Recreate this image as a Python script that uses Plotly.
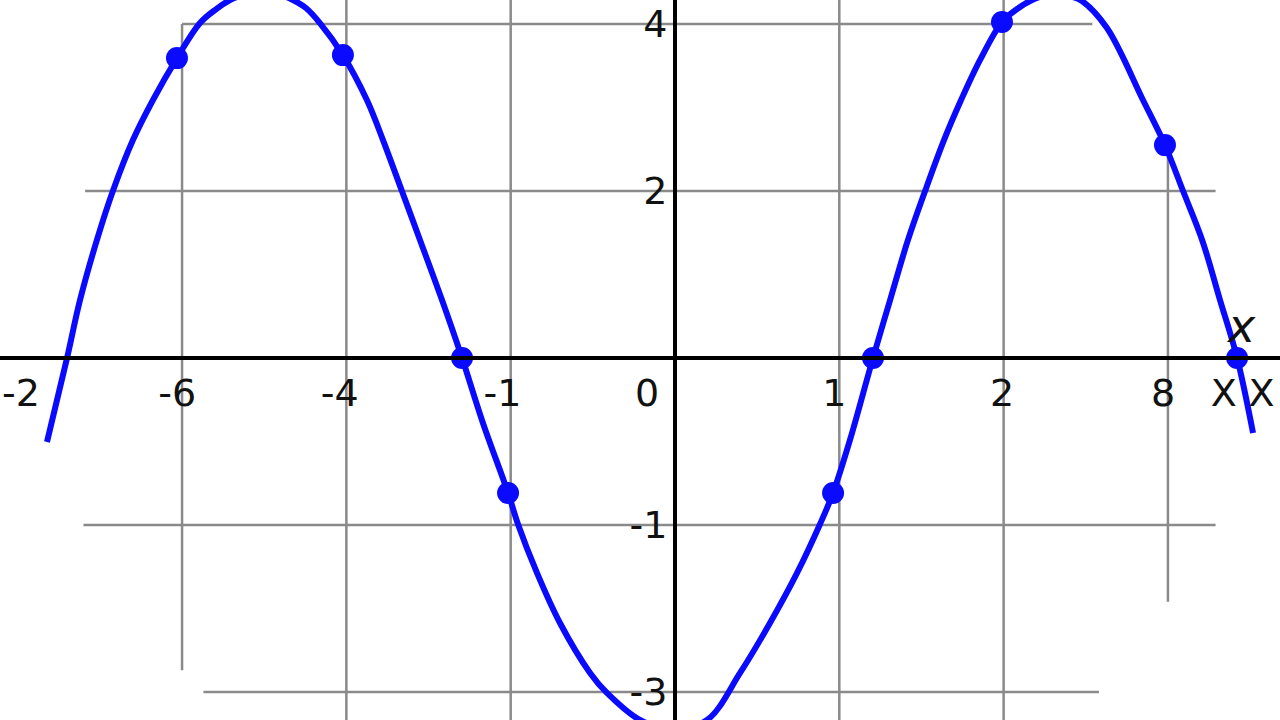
import plotly.graph_objects as go

# curve, in grid squares (one square = one unit)
curve_x = [-3.822, -3.700, -3.621, -3.518, -3.421, -3.299, -3.177, -3.031, -2.891, -2.800,
           -2.708, -2.617, -2.514, -2.416, -2.325, -2.246, -2.161, -2.021, -1.875, -1.777,
           -1.662, -1.552, -1.418, -1.296, -1.169, -1.016, -0.956, -0.840, -0.700, -0.517,
           -0.414, -0.213, -0.012, 0.195, 0.396, 0.578, 0.743, 0.883, 0.962, 1.065,
           1.205, 1.309, 1.418, 1.522, 1.637, 1.741, 1.856, 1.990, 2.082, 2.173,
           2.252, 2.331, 2.410, 2.477, 2.629, 2.848, 2.982, 3.092, 3.208, 3.317,
           3.421, 3.518]
curve_y = [-0.503, 0.0, 0.347, 0.707, 1.000, 1.305, 1.545, 1.796, 2.006, 2.084,
           2.144, 2.177, 2.192, 2.180, 2.144, 2.096, 2.006, 1.814, 1.545, 1.305,
           1.000, 0.707, 0.347, 0.0, -0.389, -0.808, -0.994, -1.287, -1.587, -1.886,
           -2.006, -2.168, -2.222, -2.168, -1.886, -1.587, -1.287, -0.994, -0.808, -0.491,
           0.0, 0.347, 0.707, 1.000, 1.305, 1.545, 1.784, 2.012, 2.090, 2.144,
           2.171, 2.180, 2.165, 2.138, 1.976, 1.545, 1.275, 1.000, 0.707, 0.347,
           0.0, -0.449]

# the dots on the curve
point_x = [-3.031, -2.021, -1.296, -1.016, 0.962, 1.205, 1.990, 2.982, 3.421]
point_y = [1.796, 1.814, 0.0, -0.808, -0.808, 0.0, 2.012, 1.275, 0.0]

# tick labels as printed (they don't follow the grid)
x_tick_vals = [-3.98, -3.03, -2.04, -1.05, -0.17, 0.97, 1.99, 2.97, 3.34, 3.57]
x_tick_text = ["-2", "-6", "-4", "-1", "0", "1", "2", "8", "X", "X"]
y_tick_vals = [2, 1, -1, -2]
y_tick_text = ["4", "2", "-1", "-3"]

# grid lines, each one only drawn over part of the picture
v_grid = [-3, -2, -1, 1, 2, 3]
v_grid_from = [-1.87, -2.3, -2.3, -2.3, -2.3, -1.46]
v_grid_to = [2.0, 2.3, 2.3, 2.3, 2.3, 1.27]
h_grid = [2, 1, -1, -2]
h_grid_from = [-3.0, -3.59, -3.60, -2.87]
h_grid_to = [2.54, 3.29, 3.29, 2.58]

BLUE = "#0a0aff"
FONT = dict(family="DejaVu Sans", size=38, color="#111111")

x_range = [-4.108, 3.682]
y_range = [-2.168, 2.144]

fig = go.Figure()

for gx, g0, g1 in zip(v_grid, v_grid_from, v_grid_to):
    fig.add_shape(type="line", x0=gx, x1=gx, y0=g0, y1=g1, layer="below",
                  line=dict(color="#8a8a8a", width=2.5))
for gy, g0, g1 in zip(h_grid, h_grid_from, h_grid_to):
    fig.add_shape(type="line", x0=g0, x1=g1, y0=gy, y1=gy, layer="below",
                  line=dict(color="#8a8a8a", width=2.5))

fig.add_trace(go.Scatter(x=curve_x, y=curve_y, mode="lines",
                         line=dict(color=BLUE, width=6, shape="spline", smoothing=1.0),
                         hoverinfo="skip"))
fig.add_trace(go.Scatter(x=point_x, y=point_y, mode="markers",
                         marker=dict(color=BLUE, size=22)))

fig.add_annotation(x=1258 / 1280, y=1 - 326 / 720, xref="paper", yref="paper",
                   text="<i>x</i>", showarrow=False,
                   font=dict(family="DejaVu Sans", size=46, color="#111111"))

fig.update_layout(
    width=1280, height=720,
    margin=dict(l=0, r=0, t=0, b=0, pad=0),
    paper_bgcolor="white", plot_bgcolor="white",
    showlegend=False,
    xaxis=dict(range=x_range, anchor="free", position=1 - 358 / 720,
               showgrid=False, zeroline=False, showline=True, automargin=False,
               linecolor="black", linewidth=4,
               tickmode="array", tickvals=x_tick_vals, ticktext=x_tick_text,
               ticks="", ticklabelstandoff=0, ticklabeloverflow="allow", tickfont=FONT),
    yaxis=dict(range=y_range, anchor="free", position=675 / 1280,
               showgrid=False, zeroline=False, showline=True, automargin=False,
               linecolor="black", linewidth=4,
               tickmode="array", tickvals=y_tick_vals, ticktext=y_tick_text,
               ticks="", ticklabelstandoff=-2, ticklabeloverflow="allow", tickfont=FONT),
)

# the page's default 8px body margin would shift the whole chart
fig.write_html("out.html", config={"displayModeBar": False},
               post_script="document.body.style.margin = '0';")
